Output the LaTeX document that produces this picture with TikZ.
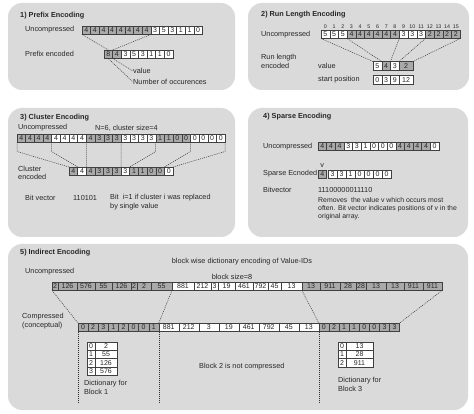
\documentclass[tikz,border=0pt]{standalone}
\usepackage{fontspec}
\setmainfont{Liberation Sans}
\usetikzlibrary{positioning}
\definecolor{panelgray}{HTML}{DADADA}
\definecolor{cellgray}{HTML}{A9A9A9}
\newcommand{\lblfont}{\fontsize{7.3}{8.6}\selectfont}
\newcommand{\notefont}{\fontsize{6.9}{7.8}\selectfont}
\newcommand{\cellfont}{\fontsize{7}{7}\selectfont}
\newcommand{\idxfont}{\fontsize{5.3}{6}\selectfont}
\tikzset{
	panel/.style={fill=panelgray, rounded corners=14pt},
	cell/.style={draw=black!75, line width=0.4pt, fill=white, minimum width=8.6, minimum height=8.5, inner sep=0pt, outer sep=0pt, anchor=north west, font=\cellfont, text=black!85},
	lbl/.style={anchor=west, inner sep=0pt, font=\lblfont, text=black!85},
	multi/.style={lbl, align=left},
	ttl/.style={lbl, font=\lblfont\bfseries},
	idx/.style={anchor=south, inner sep=0pt, font=\idxfont, text=black!85},
	link/.style={dash pattern=on 1pt off 1pt, line width=0.5pt, black!80},
}
\begin{document}
\begin{tikzpicture}[x=1pt, y=-1pt]
				\path[use as bounding box, fill=white] (0,0) rectangle (474,414);
				\fill[panel] (8,3) rectangle (235,90);
				\fill[panel] (248,3) rectangle (469,90);
				\fill[panel] (8,108) rectangle (235,237);
				\fill[panel] (248,108) rectangle (468,237);
				\fill[panel] (8,244) rectangle (468,410);
				% 1) prefix
				\node[ttl] (t1) at (20,16) {1) Prefix Encoding};
				\node[lbl] (pul) at (25,30) {Uncompressed};
				\foreach \v/\c [count=\i] in {4/cellgray,4/cellgray,4/cellgray,4/cellgray,4/cellgray,4/cellgray,4/cellgray,4/cellgray,3/white,5/white,3/white,1/white,1/white,0/white}
					\node[cell, fill=\c] (pu\i) at ({82+(\i-1)*8.6},26) {\v};
				\node[lbl] (pel) at (25,54) {Prefix encoded};
				\foreach \v/\c [count=\i] in {8/cellgray,4/cellgray,3/white,5/white,3/white,1/white,1/white,0/white}
					\node[cell, fill=\c] (pe\i) at ({104+(\i-1)*8.6},50) {\v};
				\node[lbl] (val) at (133,71) {value};
				\node[lbl] (occ) at (133,82) {Number of occurences};
				\draw[link] (pu1.south west) -- (pe1.north);
				\draw[link] (pu8.south east) -- (pe2.north west);
				\draw[link] (pe2.south west) -- (val.west);
				\draw[link] (pe1.south) -- (occ.west);
				% 2) run length
				\node[ttl] (t2) at (261,15) {2) Run Length Encoding};
				\node[lbl] (rul) at (261,35) {Uncompressed};
				\foreach \v/\c [count=\i from 0] in {5/white,5/white,5/white,4/cellgray,4/cellgray,4/cellgray,4/cellgray,4/cellgray,4/cellgray,3/white,3/white,3/white,2/cellgray,2/cellgray,2/cellgray,2/cellgray} {
					\node[cell, fill=\c, minimum width=8.7] (ru\i) at ({321+\i*8.7},30) {\v};
					\node[idx] (rn\i) at ([yshift=1.5pt]ru\i.north) {\i};
				}
				\node[multi] (rel) at (261,61.5) {Run length\\encoded};
				\node[lbl] (rvl) at (318,66) {value};
				\node[cell, minimum width=8.7] (rv1) at (373,61.5) {5};
				\node[cell, minimum width=8.7, fill=cellgray] (rv2) at (rv1.north east) {4};
				\node[cell, minimum width=8.7] (rv3) at (rv2.north east) {3};
				\node[cell, minimum width=14, fill=cellgray] (rv4) at (rv3.north east) {2};
				\node[lbl] (rsl) at (318,80) {start position};
				\node[cell, minimum width=8.7] (rs1) at (373,75.5) {0};
				\node[cell, minimum width=8.7] (rs2) at (rs1.north east) {3};
				\node[cell, minimum width=8.7] (rs3) at (rs2.north east) {9};
				\node[cell, minimum width=14] (rs4) at (rs3.north east) {12};
				\draw[link] (ru0.south west) -- (rv1.north west);
				\draw[link] (ru2.south east) -- (rv1.north east);
				\draw[link] (ru8.south east) -- (rv2.north east);
				\draw[link] (ru11.south east) -- (rv3.north east);
				\draw[link] (ru15.south east) -- (rv4.north east);
				% 3) cluster
				\node[ttl] (t3) at (20,118) {3) Cluster Encoding};
				\node[lbl] (cul) at (18,128) {Uncompressed};
				\node[lbl] (cn) at (95,128) {N=6, cluster size=4};
				\foreach \v/\c [count=\i] in {4/cellgray,4/cellgray,4/cellgray,4/cellgray,4/white,4/white,4/white,4/white,4/cellgray,3/cellgray,3/cellgray,3/cellgray,3/white,3/white,3/white,3/white,1/cellgray,1/cellgray,0/cellgray,0/cellgray,0/white,0/white,0/white,0/white}
					\node[cell, fill=\c, minimum width=8.67] (cu\i) at ({17+(\i-1)*8.67},134) {\v};
				\node[multi] (cel) at (18,173) {Cluster\\encoded};
				\foreach \v/\c [count=\i] in {4/cellgray,4/white,4/cellgray,3/cellgray,3/cellgray,3/cellgray,3/white,1/cellgray,1/cellgray,0/cellgray,0/cellgray,0/white}
					\node[cell, fill=\c, minimum width=8.67] (ce\i) at ({69+(\i-1)*8.67},167) {\v};
				\draw[link] (cu1.south west) -- ++(0,9) -- (ce1.north west);
				\foreach \a/\b in {4/1,8/2,12/6,16/7,20/11,24/12}
					\draw[link] (cu\a.south east) -- ++(0,9) -- (ce\b.north east);
				\node[lbl] (bvl) at (25,198) {Bit vector};
				\node[lbl] (bv) at (73,198) {110101};
				\node[multi, anchor=north west] (bvn) at (110,194) {Bit\ \ i=1 if cluster i was replaced\\by single value};
				% 4) sparse
				\node[ttl] (t4) at (263,117) {4) Sparse Encoding};
				\node[lbl] (sul) at (263,147) {Uncompressed};
				\foreach \v/\c [count=\i] in {4/cellgray,4/cellgray,4/cellgray,3/white,3/white,1/white,0/white,0/white,0/white,4/cellgray,4/cellgray,4/cellgray,4/cellgray,0/white}
					\node[cell, fill=\c, minimum width=8.64] (su\i) at ({318+(\i-1)*8.64},142) {\v};
				\node[lbl] (sel) at (263,174) {Sparse Ecnoded};
				\node[cell, fill=cellgray, minimum width=8.64] (se0) at (318,170) {4};
				\node[lbl, anchor=south, above=2.5pt of se0] (sv) {v};
				\foreach \v [count=\i] in {3,3,1,0,0,0,0}
					\node[cell, minimum width=9] (se\i) at ({328+(\i-1)*9},170) {\v};
				\node[lbl] (sbl) at (263,190) {Bitvector};
				\node[lbl] (sb) at (318,190) {11100000011110};
				\node[multi, anchor=north west, font=\notefont] (snote) at (318,197.5) {Removes\ \ the value v which occurs most\\often. Bit vector indicates positions of v in the\\original array.};
				% 5) indirect
				\node[ttl] (t5) at (20,253) {5) Indirect Encoding};
				\node[lbl, anchor=center] (bw) at (242,262) {block wise dictionary encoding of Value-IDs};
				\node[lbl] (iul) at (25,272) {Uncompressed};
				\node[lbl, anchor=center] (bs) at (232,277) {block size=8};
				\gdef\xpos{52}
				\foreach \v/\w/\c [count=\i] in {2/6/cellgray,126/19/cellgray,576/18/cellgray,55/17/cellgray,126/19/cellgray,2/6/cellgray,2/14/cellgray,55/21/cellgray,881/22/white,212/17/white,3/7/white,19/17/white,461/18/white,792/15/white,45/13/white,13/21/white,13/18/cellgray,911/20/cellgray,28/16/cellgray,28/10/cellgray,13/20/cellgray,13/18/cellgray,911/19/cellgray,911/19/cellgray} {
					\node[cell, fill=\c, minimum width=\w] (iu\i) at (\xpos,282) {\v};
					\pgfmathsetmacro\xnext{\xpos+\w}
					\global\let\xpos\xnext
				}
				\node[multi] (icl) at (22,321) {Compressed\\(conceptual)};
				\gdef\xpos{78}
				\foreach \v/\w/\c [count=\i] in {0/10.1/cellgray,2/10.1/cellgray,3/10.1/cellgray,1/10.1/cellgray,2/10.1/cellgray,0/10.1/cellgray,0/10.1/cellgray,1/10.1/cellgray,881/20/white,212/20/white,3/20/white,19/20/white,461/20/white,792/20/white,45/20/white,13/20/white,0/10.1/cellgray,2/10.1/cellgray,1/10.1/cellgray,1/10.1/cellgray,0/10.1/cellgray,0/10.1/cellgray,3/10.1/cellgray,3/10.1/cellgray} {
					\node[cell, fill=\c, minimum width=\w] (ic\i) at (\xpos,323) {\v};
					\pgfmathsetmacro\xnext{\xpos+\w}
					\global\let\xpos\xnext
				}
				\draw[link] (iu1.south west) -- (ic1.north west);
				\draw[link] (iu8.south east) -- (ic8.north east);
				\draw[link] (iu16.south east) -- (ic16.north east);
				\draw[link] (iu24.south east) -- (ic24.north east);
				\foreach \a in {1,9,17}
					\draw[link] (ic\a.south west) -- ++(0,71);
				\foreach \k/\v [count=\i] in {0/2,1/55,2/126,3/576} {
					\node[cell, minimum width=8, minimum height=8.3] (d1k\i) at (87,{342+(\i-1)*8.3}) {\k};
					\node[cell, minimum width=22, minimum height=8.3] (d1v\i) at (d1k\i.north east) {\v};
				}
				\node[multi, anchor=north west] (d1l) at (84,380.5) {Dictionary for\\Block 1};
				\node[lbl] (b2) at (199,367) {Block 2 is not compressed};
				\foreach \k/\v [count=\i] in {0/13,1/28,2/911} {
					\node[cell, minimum width=8, minimum height=8.3] (d3k\i) at (338,{342+(\i-1)*8.3}) {\k};
					\node[cell, minimum width=27, minimum height=8.3] (d3v\i) at (d3k\i.north east) {\v};
				}
				\node[multi, anchor=north west] (d3l) at (338,377) {Dictionary for\\Block 3};
			\end{tikzpicture}
\end{document}
